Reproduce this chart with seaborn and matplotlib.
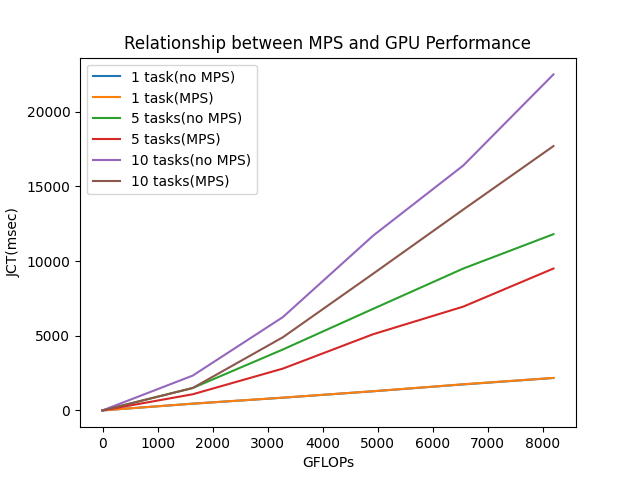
import matplotlib
matplotlib.use("Agg")
import matplotlib.pyplot as plt
from matplotlib.ticker import MultipleLocator
import pandas as pd
import seaborn as sns

# --- Data ---------------------------------------------------------------
GFLOPS = [0, 1638, 3277, 4915, 6554, 8192]

one_task_no_mps  = [0, 450, 850, 1280, 1740, 2170]
one_task_mps     = [0, 450, 855, 1285, 1750, 2175]
five_no_mps      = [0, 1500, 4080, 6800, 9500, 11800]
five_mps         = [0, 1080, 2800, 5100, 6950, 9500]
ten_no_mps       = [0, 2330, 6250, 11700, 16400, 22500]
ten_mps          = [0, 1500, 4900, 9150, 13450, 17700]

SERIES = {
    "1 task(no MPS)":   one_task_no_mps,
    "1 task(MPS)":      one_task_mps,
    "5 tasks(no MPS)":  five_no_mps,
    "5 tasks(MPS)":     five_mps,
    "10 tasks(no MPS)": ten_no_mps,
    "10 tasks(MPS)":    ten_mps,
}

rows = []
for name, vals in SERIES.items():
    for x, y in zip(GFLOPS, vals):
        rows.append({"GFLOPs": x, "JCT": y, "series": name})
df = pd.DataFrame(rows)

fig, ax = plt.subplots(figsize=(6.4, 4.8), dpi=100)
sns.lineplot(data=df, x="GFLOPs", y="JCT", hue="series",
             hue_order=list(SERIES.keys()),
             palette=sns.color_palette("tab10", len(SERIES)),
             linewidth=1.5, ax=ax)

ax.xaxis.set_major_locator(MultipleLocator(1000))
ax.set_title("Relationship between MPS and GPU Performance")
ax.set_xlabel("GFLOPs")
ax.set_ylabel("JCT(msec)")
ax.legend(loc="upper left", title=None)

fig.savefig("out.png", dpi=100)
